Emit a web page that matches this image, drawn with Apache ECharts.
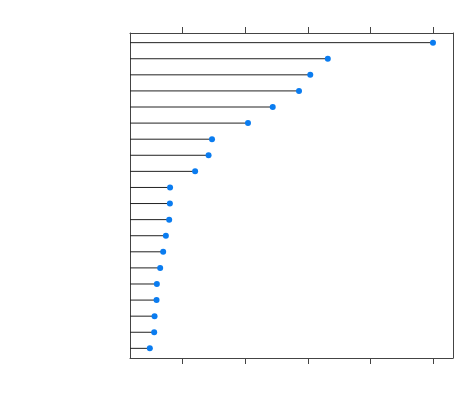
<!DOCTYPE html>
<html>
<head>
    <meta charset="utf-8">
    <title>lollipop</title>
    <script src="https://cdn.jsdelivr.net/npm/echarts@6/dist/echarts.min.js"></script>
    <style>
        html, body { margin: 0; padding: 0; background: #fff; }
    </style>
</head>
<body>
<div id="main" style="width: 474px;height:406px;"></div>
<script type="text/javascript">
    // rows from top to bottom
    var rows = [1, 2, 3, 4, 5, 6, 7, 8, 9, 10, 11, 12, 13, 14, 15, 16, 17, 18, 19, 20];
    var values = [50, 33.2, 30.4, 28.6, 24.4, 20.45, 14.7, 14.15, 12.0, 8.0,
                  7.97, 7.86, 7.33, 6.9, 6.42, 5.89, 5.84, 5.52, 5.46, 4.77];
    var tickValues = [10, 20, 30, 40, 50];

    var xMin = 1.6, xMax = 53.2;

    var points = rows.map(function (r, i) { return [values[i], r]; });

    var myChart = echarts.init(document.getElementById('main'));

    var lineStyle = {color: '#444', width: 1};
    function xAxis(pos) {
        return {
            type: 'value', position: pos, min: xMin, max: xMax,
            splitLine: {show: false},
            axisLine: {show: true, onZero: false, lineStyle: lineStyle},
            axisTick: {show: true, inside: false, length: 6, customValues: tickValues, lineStyle: lineStyle},
            axisLabel: {show: false}
        };
    }
    function yAxis(pos) {
        return {
            type: 'value', position: pos, min: 0.4, max: 20.6, inverse: true,
            splitLine: {show: false},
            axisLine: {show: true, onZero: false, lineStyle: lineStyle},
            axisTick: {show: false},
            axisLabel: {show: false}
        };
    }

    var option = {
        animation: false,
        grid: {left: 130, right: 21, top: 33, bottom: 48},
        xAxis: [xAxis('bottom'), xAxis('top')],
        yAxis: [yAxis('left'), yAxis('right')],
        series: [
            {
                // stems from the left edge to each point
                type: 'custom',
                data: points,
                renderItem: function (params, api) {
                    var a = api.coord([xMin, api.value(1)]);
                    var b = api.coord([api.value(0), api.value(1)]);
                    return {
                        type: 'line',
                        shape: {x1: a[0], y1: a[1], x2: b[0], y2: b[1]},
                        style: {stroke: '#222', lineWidth: 1}
                    };
                }
            },
            {
                type: 'scatter',
                data: points,
                symbol: 'circle',
                symbolSize: 6,
                itemStyle: {color: '#0a7cf0', opacity: 1}
            }
        ]
    };
    myChart.setOption(option);
</script>
</body>
</html>
